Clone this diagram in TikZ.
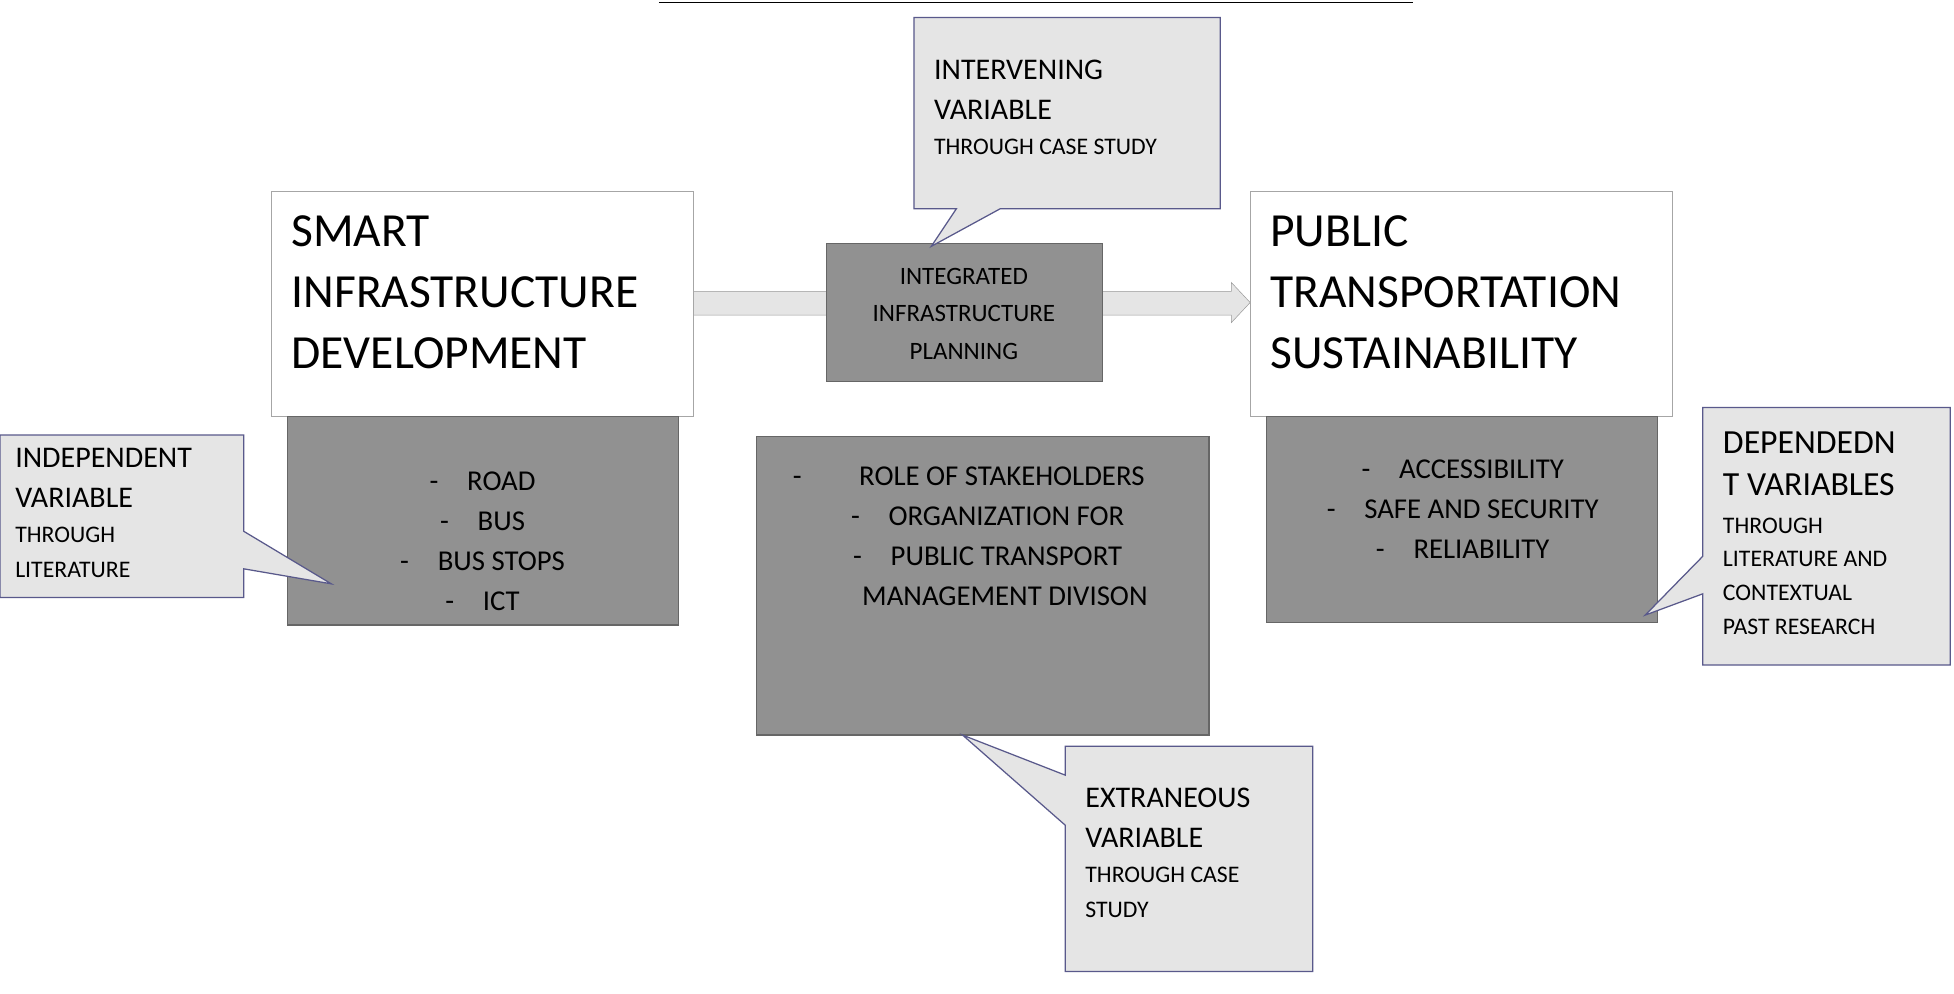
\documentclass[tikz,border=0pt]{standalone}
\usepackage{fontspec}
\setmainfont{Carlito}
\begin{document}
\begin{tikzpicture}[x=1pt,y=-1pt,
  white/.style={draw=gray!70,fill=white,line width=1pt},
  dark/.style={draw=gray!80!black,fill=black!43,line width=1pt},
  call/.style={draw=black!35!blue!30!gray,fill=black!10,line width=1pt},
  big/.style={font=\fontsize{38}{49}\selectfont,align=left,anchor=north west,inner sep=0},
  mid/.style={font=\fontsize{24}{32}\selectfont,align=left,anchor=north west,inner sep=0},
  small/.style={font=\fontsize{19}{27}\selectfont},
  list/.style={font=\fontsize{23}{32}\selectfont,align=center,inner sep=0}]
\useasboundingbox (0,0) rectangle (1563,795);
\draw[line width=1pt] (527,2) -- (1130,2);
% arrow
\draw[fill=black!10,draw=gray!80] (552,233) -- (985,233) -- (985,226) -- (1000,242) -- (985,258) -- (985,252) -- (552,252) -- cycle;
% left
\draw[white] (217,153) rectangle (555,333);
\node[big] (sid) at (233,172) {SMART\\INFRASTRUCTURE\\DEVELOPMENT};
\draw[dark] (230,333) rectangle (543,500);
\node[list] (sidl) at (386,433) {-\quad ROAD\\-\quad BUS\\-\quad BUS STOPS\\-\quad ICT};
\draw[call] (0,348) -- (195,348) -- (195,425) -- (265,467) -- (195,455) -- (195,478) -- (0,478) -- cycle;
\node[mid] (iv) at (12,358) {INDEPENDENT\\VARIABLE\\[-4pt]{\fontsize{19}{26}\selectfont THROUGH}\\[-4pt]{\fontsize{19}{26}\selectfont LITERATURE}};
% middle
\draw[dark] (661,195) rectangle (882,305);
\node[list,font=\fontsize{20}{30}\selectfont] (iip) at (771,251) {INTEGRATED\\INFRASTRUCTURE\\PLANNING};
\draw[call] (731,14) -- (976,14) -- (976,167) -- (800,167) -- (745,197) -- (765,167) -- (731,167) -- cycle;
\node[mid] (inv) at (747,48) {INTERVENING\\VARIABLE\\[-4pt]{\fontsize{19}{26}\selectfont THROUGH CASE STUDY}};
\draw[dark] (605,349) rectangle (967,588);
\node[list,align=left] (mgl) at (636,374) {};
\node[list,anchor=north west,align=left] (mg) at (634,373) {-\qquad ROLE OF STAKEHOLDERS};
\node[list,anchor=north] (mg2) at (790,405) {-\quad ORGANIZATION FOR\\-\quad PUBLIC TRANSPORT\\\hspace*{1.2em}MANAGEMENT DIVISON};
\draw[call] (852,597) -- (1050,597) -- (1050,777) -- (852,777) -- (852,660) -- (770,588) -- (852,620) -- cycle;
\node[mid] (ev) at (868,630) {EXTRANEOUS\\VARIABLE\\[-4pt]{\fontsize{19}{26}\selectfont THROUGH CASE}\\[-4pt]{\fontsize{19}{26}\selectfont STUDY}};
% right
\draw[white] (1000,153) rectangle (1338,333);
\node[big] (pts) at (1016,172) {PUBLIC\\TRANSPORTATION\\SUSTAINABILITY};
\draw[dark] (1013,333) rectangle (1326,498);
\node[list,anchor=north] (ptsl) at (1170,368) {-\quad ACCESSIBILITY\\-\quad SAFE AND SECURITY\\-\quad RELIABILITY};
\draw[call] (1362,326) -- (1560,326) -- (1560,532) -- (1362,532) -- (1362,475) -- (1316,492) -- (1362,445) -- cycle;
\node[mid,font=\fontsize{27}{34}\selectfont] (dv) at (1378,345) {DEPENDEDN\\T VARIABLES};
\node[mid,font=\fontsize{19}{27}\selectfont] (dv2) at (1378,414) {THROUGH\\LITERATURE AND\\CONTEXTUAL\\PAST RESEARCH};
\end{tikzpicture}
\end{document}
